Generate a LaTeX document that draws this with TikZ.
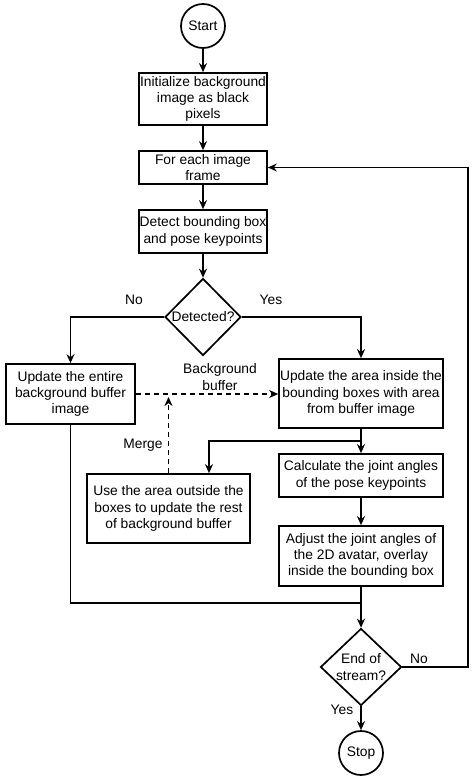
\documentclass[tikz,border=0pt]{standalone}
\usepackage{fontspec}
\setmainfont{Liberation Sans}
\usetikzlibrary{shapes.geometric,arrows.meta,calc}
\begin{document}
\begin{tikzpicture}[x=1pt,y=-1pt,
  every node/.style={font=\fontsize{13.8}{16.3}\selectfont, align=center},
  box/.style={draw, line width=1.7pt, inner sep=1pt, minimum width=#1},
  box/.default=128pt,
  circ/.style={draw, circle, line width=1.7pt, minimum size=44pt, inner sep=0pt},
  dia/.style={draw, diamond, line width=1.7pt, inner sep=0pt},
  arr/.style={line width=1.7pt, -{Stealth[length=9pt,width=8pt]}},
  ln/.style={line width=1.7pt},
  darr/.style={line width=1.7pt, dash pattern=on 5pt off 4pt, -{Stealth[length=9pt,width=8pt]}},
  lab/.style={inner sep=0pt}
]
\useasboundingbox (0,0) rectangle (474,779);
\node[circ] (start) at (203,26) {Start};
\node[box, minimum height=52pt] (init) at (203,99) {Initialize background\\image as black\\pixels};
\node[box, minimum height=33pt] (frame) at (203,167.5) {For each image\\frame};
\node[box, minimum height=43pt] (detect) at (203,231.5) {Detect bounding box\\and pose keypoints};
\node[dia, minimum width=76pt, minimum height=77pt, label={center:Detected?}] (det) at (203,317) {};
\node[box=129pt, minimum height=60pt] (upd1) at (70.5,394) {Update the entire\\background buffer\\image};
\node[box=164pt, minimum height=69pt] (upd2) at (361,393.5) {Update the area inside the\\bounding boxes with area\\from buffer image};
\node[box=163pt, minimum height=69pt] (use) at (168.5,508.5) {Use the area outside the\\boxes to update the rest\\of background buffer};
\node[box=164pt, minimum height=43pt] (calc) at (361,475.5) {Calculate the joint angles\\of the pose keypoints};
\node[box=164pt, minimum height=60pt] (adj) at (361,556) {Adjust the joint angles of\\the 2D avatar, overlay\\inside the bounding box};
\node[dia, minimum width=81pt, minimum height=77pt, label={[align=center]center:End of\\stream?}] (eos) at (361,667) {};
\node[circ] (stop) at (361,753) {Stop};

\node[lab] (lno) at (134,300) {No};
\node[lab] (lyes) at (271,300) {Yes};
\node[lab] (lbg) at (220,377) {Background\\buffer};
\node[lab] (lmerge) at (143,445) {Merge};
\node[lab] (lno2) at (419,659) {No};
\node[lab] (lyes2) at (342,710) {Yes};

\draw[arr] (start) -- (init);
\draw[arr] (init) -- (frame);
\draw[arr] (frame) -- (detect);
\draw[arr] (detect) -- (det);
\draw[arr] (det.west) -| (upd1.north);
\draw[arr] (det.east) -| (upd2.north);
\draw[darr] (upd1.east) -- (upd1.east -| upd2.west);
\coordinate (mg) at (use.north |- upd1.east);
\draw[darr, shorten >=3pt] (use.north) -- (mg);
\draw[arr] (upd2) -- (calc);
\coordinate (br) at (361,441);
\coordinate (usein) at ([xshift=40.5pt]use.north);
\draw[arr] (br) -| (usein);
\draw[arr] (calc) -- (adj);
\draw[arr] (adj) -- (eos);
\coordinate (j2) at (361,603);
\draw[ln] (upd1.south) |- (j2);
\coordinate (rt) at (468,667);
\draw[arr] (eos.east) -- (rt) |- (frame.east);
\draw[arr] (eos) -- (stop);
\end{tikzpicture}
\end{document}
